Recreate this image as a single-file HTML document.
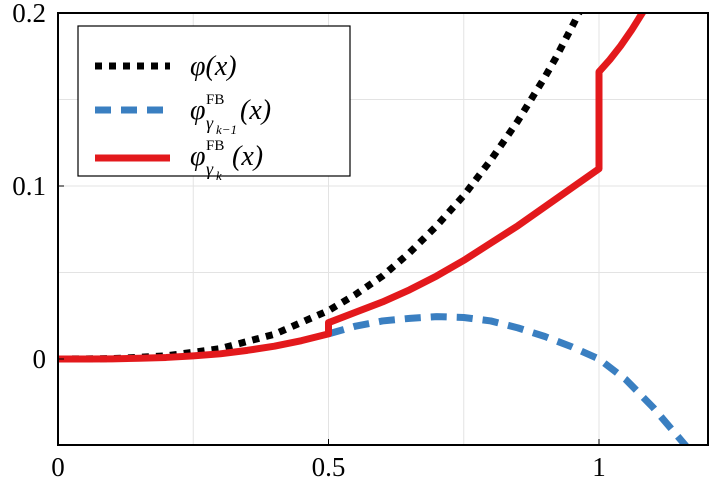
<!DOCTYPE html>
<html><head><meta charset="utf-8"><style>
body{margin:0;background:#fff;}
svg{display:block;font-family:"Liberation Serif","DejaVu Serif",serif;}
</style></head><body>
<svg id="c" width="711" height="482" viewBox="0 0 711 482"></svg>
<script>
const phiX=[0,0.1,0.2,0.3,0.4,0.5,0.55,0.6,0.65,0.7,0.75,0.8,0.85,0.9,0.92,0.955,0.98];
const phiY=[0,0.0002,0.0018,0.006,0.0143,0.028,0.0373,0.048,0.0615,0.077,0.0945,0.115,0.1376,0.163,0.174,0.195,0.211];
const fbPrevX=[0.5,0.55,0.6,0.65,0.7,0.75,0.8,0.85,0.9,0.95,1.0,1.05,1.1,1.16,1.18];
const fbPrevY=[0.0145,0.019,0.022,0.0235,0.0245,0.024,0.022,0.018,0.013,0.007,0.0,-0.012,-0.028,-0.05,-0.058];
const fbX=[0,0.05,0.1,0.15,0.2,0.25,0.3,0.35,0.4,0.45,0.5,0.5,0.55,0.6,0.65,0.7,0.75,0.8,0.85,0.9,0.95,1.0,1.0,1.02,1.04,1.06,1.08,1.1];
const fbY=[0,0.00001,0.0001,0.0004,0.0009,0.0018,0.003,0.005,0.0074,0.0106,0.0145,0.021,0.027,0.033,0.040,0.048,0.057,0.067,0.077,0.088,0.099,0.110,0.166,0.173,0.181,0.19,0.2,0.21];
const xTicks=[0,0.5,1];
const xTickLabels=["0","0.5","1"];
const yTicks=[0,0.1,0.2];
const yTickLabels=["0","0.1","0.2"];
const xGrid=[0.25,0.5,0.75,1];
const yGrid=[0.05,0.1,0.15];

const L=58,R=708,T=13,B=445;
const sx=v=>58+v*541;
const sy=v=>359-v*1730;
const NS="http://www.w3.org/2000/svg";
const svg=document.getElementById('c');
function mk(tag,attrs,parent){const e=document.createElementNS(NS,tag);for(const k in attrs)e.setAttribute(k,attrs[k]);(parent||svg).appendChild(e);return e;}

const defs=mk('defs',{});
const cp=mk('clipPath',{id:'clip'},defs);
mk('rect',{x:L,y:T,width:R-L,height:B-T},cp);

xGrid.forEach(v=>{const g=mk('line',{x1:sx(v),x2:sx(v),y1:T,y2:B,stroke:'#e3e3e3','stroke-width':1});

});
yGrid.forEach(v=>{const g=mk('line',{x1:L,x2:R,y1:sy(v),y2:sy(v),stroke:'#e3e3e3','stroke-width':1});

});

const plot=mk('g',{'clip-path':'url(#clip)'});


function pts(xs,ys){return xs.map((x,i)=>sx(x)+','+sy(ys[i])).join(' ');}
const l1=mk('polyline',{points:pts(phiX,phiY),fill:'none',stroke:'#000','stroke-width':7,'stroke-dasharray':'7,7','stroke-linejoin':'round'},plot);


const l2=mk('polyline',{points:pts(fbPrevX,fbPrevY),fill:'none',stroke:'#3a7fc1','stroke-width':7,'stroke-dasharray':'16,10','stroke-linejoin':'round'},plot);


const l3=mk('polyline',{points:pts(fbX,fbY),fill:'none',stroke:'#e3191c','stroke-width':7,'stroke-linejoin':'round'},plot);



const fr=mk('rect',{x:L,y:T,width:R-L,height:B-T,fill:'none',stroke:'#000','stroke-width':2});



xTicks.forEach((v,i)=>{
 mk('line',{x1:sx(v),x2:sx(v),y1:B,y2:B-6,stroke:'#000','stroke-width':1});
 const t=mk('text',{x:sx(v),y:476,'text-anchor':'middle','font-size':27});t.textContent=xTickLabels[i];
 
 
});
yTicks.forEach((v,i)=>{
 mk('line',{x1:L,x2:L+6,y1:sy(v),y2:sy(v),stroke:'#000','stroke-width':1});
 const t=mk('text',{x:46,y:sy(v)+9,'text-anchor':'end','font-size':27});t.textContent=yTickLabels[i];
 
 
});
</script>
<svg style="position:absolute;left:0;top:0" width="711" height="482" font-family="Liberation Serif,serif">
 <rect x="78" y="26" width="272" height="150" fill="#fff" stroke="#000" stroke-width="1.2"/>
 <g>
  <line x1="95" y1="66" x2="170" y2="66" stroke="#000" stroke-width="7" stroke-dasharray="7,7"/>
  <text x="190" y="75" font-size="28" font-style="italic">φ(x)</text>
 </g>
 <g>
  <line x1="95" y1="110" x2="170" y2="110" stroke="#3a7fc1" stroke-width="7" stroke-dasharray="16,10"/>
  <text x="190" y="119" font-size="28" font-style="italic">φ</text>
  <text x="206" y="104" font-size="15">FB</text>
  <text x="206" y="129" font-size="18" font-style="italic">γ</text>
  <text x="216" y="134" font-size="13" font-style="italic">k−1</text>
  <text x="240" y="119" font-size="28" font-style="italic">(x)</text>
 </g>
 <g>
  <line x1="95" y1="158" x2="170" y2="158" stroke="#e3191c" stroke-width="7"/>
  <text x="190" y="165" font-size="28" font-style="italic">φ</text>
  <text x="206" y="150" font-size="15">FB</text>
  <text x="206" y="175" font-size="18" font-style="italic">γ</text>
  <text x="216" y="180" font-size="13" font-style="italic">k</text>
  <text x="232" y="165" font-size="28" font-style="italic">(x)</text>
 </g>
</svg>
</body></html>
